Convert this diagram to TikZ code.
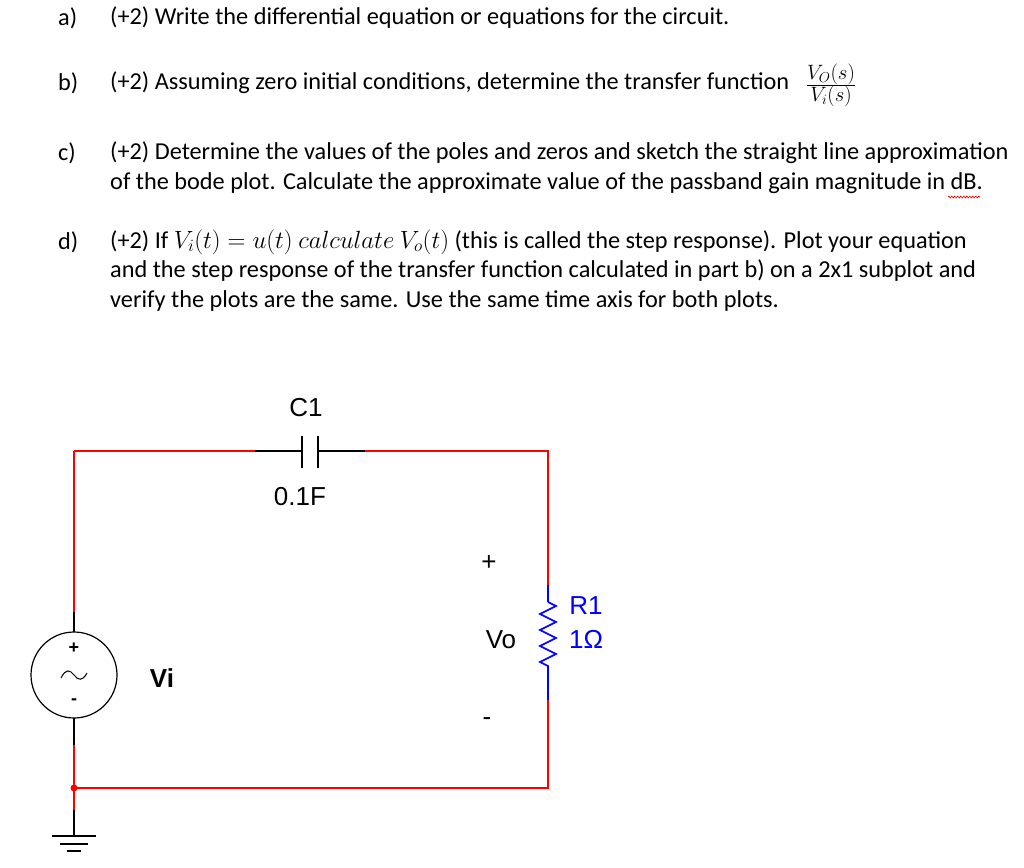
\documentclass[tikz,border=0pt]{standalone}
\usepackage{fontspec}
\setmainfont{Carlito}
\newfontfamily\arial{Liberation Sans}
\usetikzlibrary{decorations.pathmorphing}
\begin{document}
\begin{tikzpicture}[x=1pt,y=-1pt,
  txt/.style={anchor=west,inner sep=0pt,font=\fontsize{24.3}{28}\selectfont},
  lbl/.style={inner sep=0pt,font=\arial\fontsize{26}{30}\selectfont},
  rw/.style={draw=red,line width=1.6pt},
  bw/.style={draw=black,line width=1.6pt},
  uw/.style={draw=blue,line width=1.6pt}]
\useasboundingbox (0,0) rectangle (1024,867);
\fill[white] (0,0) rectangle (1024,867);
% text
\node[txt] (a) at (58,18) {a)};
\node[txt] (at) at (110,18) {(+2) Write the differential equation or equations for the circuit.};
\node[txt] (b) at (58,83) {b)};
\node[txt] (bt) at (110,83) {(+2) Assuming zero initial conditions, determine the transfer function};
\node[inner sep=0pt,font=\fontsize{28}{30}\selectfont] (tf) at (831,85) {$\frac{V_O(s)}{V_i(s)}$};
\node[txt] (c) at (58,153) {c)};
\node[txt] (ct) at (110,153) {(+2) Determine the values of the poles and zeros and sketch the straight line approximation};
\node[txt] (ct2) at (110,183) {of the bode plot. Calculate the approximate value of the passband gain magnitude in dB.};
\draw[red,line width=0.6pt,decorate,decoration={zigzag,segment length=3pt,amplitude=1pt}] (948,197) -- (980,197);
\node[txt] (d) at (58,242) {d)};
\node[txt] (dt) at (110,242) {(+2) If $V_i(t)=u(t)\ calculate\ V_o(t)$\ (this is called the step response). Plot your equation};
\node[txt] (dt2) at (110,271) {and the step response of the transfer function calculated in part b) on a 2x1 subplot and};
\node[txt] (dt3) at (110,301) {verify the plots are the same. Use the same time axis for both plots.};
% circuit
\coordinate (tl) at (74,451); \coordinate (tr) at (548,451);
\coordinate (bl) at (74,788); \coordinate (br) at (548,788);
\draw[rw] (tl) -- (255,451); \draw[rw] (365,451) -- (tr) -- (548,585);
\draw[bw] (255,451) -- (302,451) (318,451) -- (365,451);
\draw[bw] (302,436) -- (302,468) (318,436) -- (318,468);
\node[lbl] (c1) at (306,408) {C1};
\node[lbl] (cv) at (300,497) {0.1F};
\draw[uw] (548,585) -- (548,602);
\draw[uw] (548,602) -- (556,606) -- (540,614) -- (556,622) -- (540,630) -- (556,638) -- (540,646) -- (556,654) -- (540,662) -- (548,666) -- (548,700);
\draw[rw] (548,700) -- (br) -- (bl);
\node[inner sep=0pt,text=blue,font=\arial\fontsize{26}{28}\selectfont] (r1) at (586,606) {R1};
\node[inner sep=0pt,text=blue,font=\arial\fontsize{26}{28}\selectfont] (rv) at (586,639) {1Ω};
\node[inner sep=0pt,font=\arial\fontsize{26}{28}\selectfont] (pl) at (489,563) {+};
\node[inner sep=0pt,font=\arial\fontsize{26}{28}\selectfont] (vo) at (501,640) {Vo};
\node[inner sep=0pt,font=\arial\fontsize{26}{28}\selectfont] (mi) at (487,722) {-};
% source
\draw[rw] (tl) -- (74,612); \draw[bw] (74,612) -- (74,632);
\node[circle,draw,line width=1.2pt,minimum size=86pt,inner sep=0pt] (src) at (74,675) {};
\node[inner sep=0pt,font=\arial\fontsize{18}{20}\selectfont\bfseries] at (74,648) {+};
\node[inner sep=0pt,font=\arial\fontsize{18}{20}\selectfont\bfseries] at (74,702) {-};
\draw[line width=1pt] (61,678) .. controls (66,668) and (70,670) .. (74,675) .. controls (78,680) and (82,682) .. (87,673);
\draw[bw] (74,718) -- (74,745); \draw[rw] (74,745) -- (74,810);
\fill[red] (bl) circle (3.5pt);
\draw[bw] (74,810) -- (74,836);
\draw[line width=1.6pt] (52,836) -- (96,836) (60,844) -- (88,844) (67,851) -- (81,851);
\node[inner sep=0pt,font=\arial\bfseries\fontsize{26}{28}\selectfont] (vi) at (162,678) {Vi};
\end{tikzpicture}
\end{document}
